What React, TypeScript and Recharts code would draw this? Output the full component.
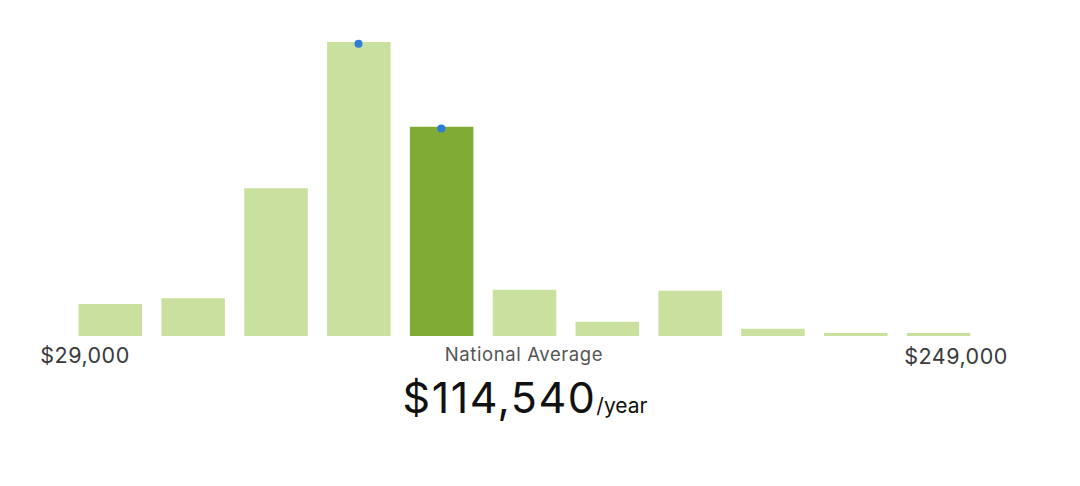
import { ComposedChart, Bar, Line, Cell, XAxis, YAxis } from "recharts";

// salary bins (share of workers, %)
const bins = ["b1", "b2", "b3", "b4", "b5", "b6", "b7", "b8", "b9", "b10", "b11"];
const shares = [3.8, 4.5, 17.6, 35.0, 24.9, 5.5, 1.7, 5.4, 0.85, 0.35, 0.35];
const markers: (number | null)[] = [null, null, null, 35.0, 24.9, null, null, null, null, null, null];
const highlightIndex = 4;

const minLabel = "$29,000";
const maxLabel = "$249,000";
const avgCaption = "National Average";
const avgValue = "$114,540";
const avgUnit = "/year";

const data = bins.map((b, i) => ({ bin: b, share: shares[i], marker: markers[i] }));

const LIGHT = "#c9e09f";
const DARK = "#80ab34";
const DOT = "#2e7bd8";
const FONT = "Inter, 'Noto Sans', sans-serif";

const MarkerDot = (props: any) => {
  const { cx, cy, payload, index } = props;
  if (payload.marker == null || cy == null) return <g key={`d${index}`} />;
  return <circle key={`d${index}`} cx={cx} cy={cy + 1.7} r={4} fill={DOT} />;
};

export default function App() {
  return (
    <div style={{ position: "absolute", left: 0, top: 0, width: 1080, height: 486, background: "#fff" }}>
      <ComposedChart
        width={1080}
        height={486}
        data={data}
        margin={{ top: 42, right: 100.3, left: 68.6, bottom: 150 }}
      >
        <XAxis dataKey="bin" hide />
        <YAxis hide domain={[0, 35]} />
        <Bar dataKey="share" barSize={63.5} isAnimationActive={false}>
          {data.map((d, i) => (
            <Cell key={d.bin} fill={i === highlightIndex ? DARK : LIGHT} />
          ))}
        </Bar>
        <Line
          dataKey="marker"
          stroke="none"
          dot={MarkerDot}
          activeDot={false}
          isAnimationActive={false}
        />
      </ComposedChart>
      <svg width={1080} height={486} style={{ position: "absolute", left: 0, top: 0, pointerEvents: "none" }}>
        <text x={85} y={363} textAnchor="middle" fontFamily={FONT} fontSize={21.5} letterSpacing={0.5} fill="#3a3a3a">
          {minLabel}
        </text>
        <text x={956} y={364} textAnchor="middle" fontFamily={FONT} fontSize={21.5} letterSpacing={0.5} fill="#3a3a3a">
          {maxLabel}
        </text>
        <text x={524} y={360.5} textAnchor="middle" fontFamily={FONT} fontSize={18.5} letterSpacing={0.6} fill="#555">
          {avgCaption}
        </text>
        <text x={525} y={413} textAnchor="middle" fontFamily={FONT} fill="#111">
          <tspan fontSize={43} letterSpacing={1.5}>{avgValue}</tspan>
          <tspan fontSize={21}>{avgUnit}</tspan>
        </text>
      </svg>
    </div>
  );
}
